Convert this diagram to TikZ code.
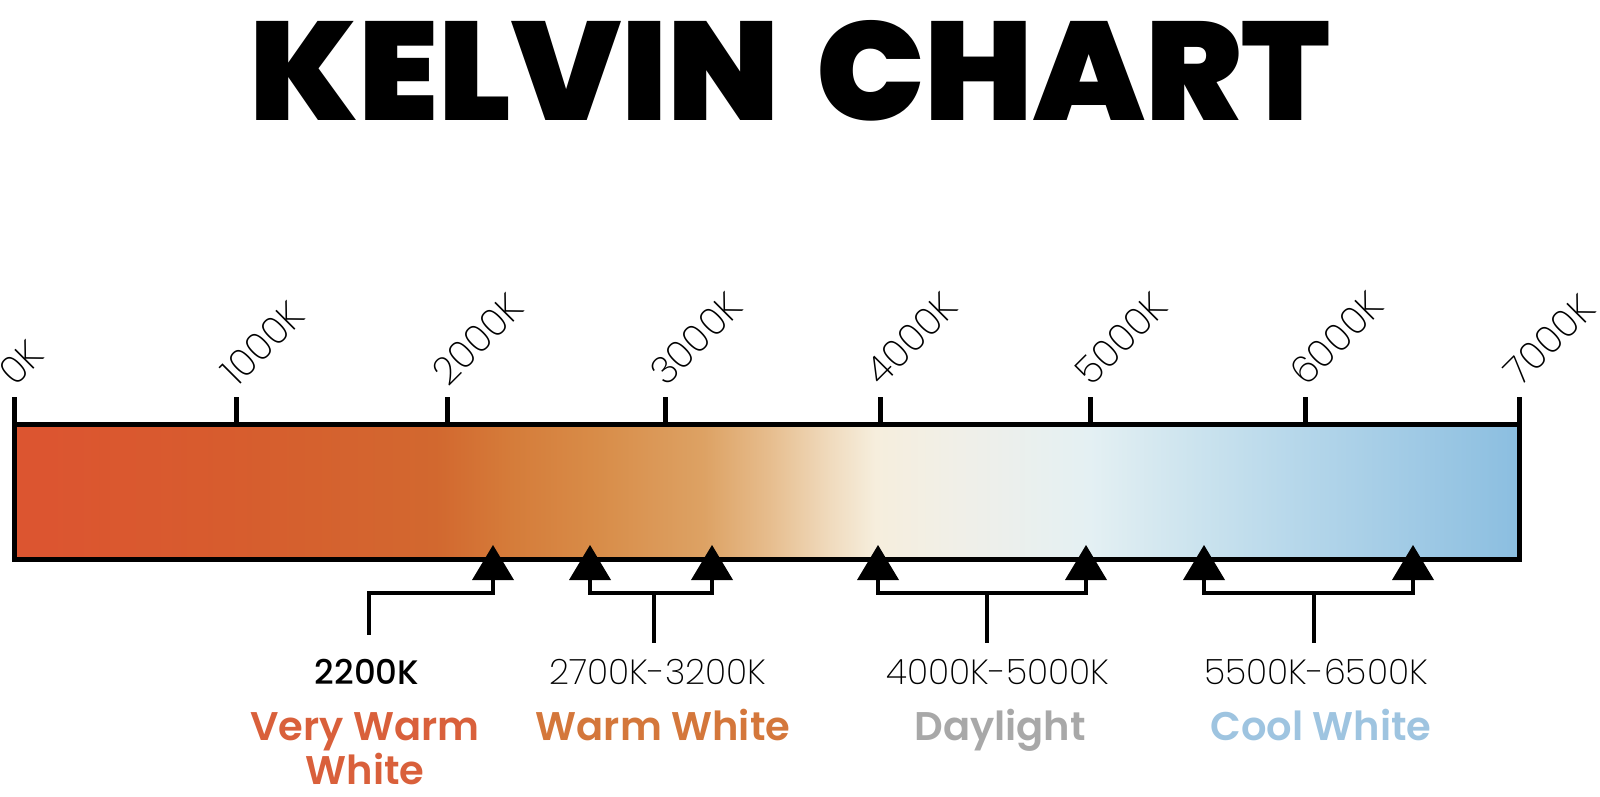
\documentclass[tikz,border=0pt]{standalone}
\usepackage{fontspec}
\setmainfont{Poppins}
\newfontfamily\lightfont{Poppins ExtraLight}
\newfontfamily\semifont{Poppins SemiBold}
\newfontfamily\medfont{Poppins Medium}
\newfontfamily\blackfont{Poppins Black}
\definecolor{k0}{HTML}{DC5530}
\definecolor{k1}{HTML}{D75C2E}
\definecolor{k2}{HTML}{D2682F}
\definecolor{k3}{HTML}{D57C3A}
\definecolor{k4}{HTML}{D88C48}
\definecolor{k5}{HTML}{DDA264}
\definecolor{k6}{HTML}{E6BC8C}
\definecolor{k7}{HTML}{F0DBBE}
\definecolor{k8}{HTML}{F6EEDD}
\definecolor{k9}{HTML}{F0EFE8}
\definecolor{k10}{HTML}{E4F0F3}
\definecolor{k11}{HTML}{CBE3EE}
\definecolor{k12}{HTML}{B4D6EA}
\definecolor{k13}{HTML}{A0CAE5}
\definecolor{k14}{HTML}{8BBEE0}
\definecolor{vwarm}{HTML}{D9603B}
\definecolor{warm}{HTML}{D4773B}
\definecolor{day}{HTML}{A8A8A8}
\definecolor{cool}{HTML}{9EC4E0}
\pgfdeclarehorizontalshading{kelvin}{100bp}{
color(0bp)=(k0); color(25bp)=(k0);
color(26bp)=(k0);
color(32bp)=(k1);
color(39bp)=(k2);
color(41.5bp)=(k3);
color(44.3bp)=(k4);
color(47.9bp)=(k5);
color(50bp)=(k6);
color(52.1bp)=(k7);
color(53.6bp)=(k8);
color(56.4bp)=(k9);
color(60.7bp)=(k10);
color(64.3bp)=(k11);
color(67.9bp)=(k12);
color(71.4bp)=(k13);
color(75bp)=(k14); color(100bp)=(k14)}
\tikzset{
  barline/.style={line width=5pt, draw=black},
  tickline/.style={line width=5pt, draw=black},
  conn/.style={line width=4pt, draw=black},
  tri/.style={fill=black},
  ticklabel/.style={anchor=base west, rotate=45, inner sep=0pt, font=\lightfont\fontsize{38}{38}\selectfont},
  rangelabel/.style={anchor=base, inner sep=0pt, font=\lightfont\fontsize{35}{35}\selectfont},
  namelabel/.style={anchor=base, inner sep=0pt, align=center, font=\semifont\fontsize{40}{44}\selectfont},
}
\begin{document}
\begin{tikzpicture}[x=1pt,y=-1pt]
\useasboundingbox (0,0) rectangle (1600,796);
% title
\node[anchor=base, inner sep=0pt, xscale=1.03, font=\blackfont\fontsize{140}{140}\selectfont] (title) at (790,120) {KELVIN\hspace{0.08em} CHART};
% bar
\node[draw=none, minimum width=1505pt, minimum height=135pt, inner sep=0pt, shading=kelvin, anchor=north west] (bar) at (14.5,424.5) {};
\draw[barline] (bar.north west) rectangle (bar.south east);
% ticks
\foreach \n/\x/\t in {t0/14.5/0K, t1/236/1000K, t2/447/2000K, t3/665/3000K, t4/880/4000K, t5/1090/5000K, t6/1305/6000K, t7/1519.5/7000K}{
  \coordinate (\n) at (\x,397);
  \draw[tickline] (\n) -- (\x,424.5);
  \node[ticklabel] (\n lab) at (\x+1,388) {\t};
}
% triangles (apex at bar bottom)
\foreach \n/\x in {a/493, b/590, c/712, d/878, e/1086, f/1204, g/1413}{
  \coordinate (\n) at (\x,580);
  \fill[tri] (\x,545) -- (\x+21,580) -- (\x-21,580) -- cycle;
}
% connectors
\coordinate (a1) at (369,593);
\coordinate (a2) at (369,635);
\draw[conn] (a) -- (493,593) -- (a1) -- (a2);
\coordinate (bc) at (654,593);
\coordinate (bc2) at (654,643);
\draw[conn] (b) -- (590,593) -- (712,593) -- (c);
\draw[conn] (bc) -- (bc2);
\coordinate (de) at (987,593);
\coordinate (de2) at (987,643);
\draw[conn] (d) -- (878,593) -- (1086,593) -- (e);
\draw[conn] (de) -- (de2);
\coordinate (fg) at (1314,593);
\coordinate (fg2) at (1314,643);
\draw[conn] (f) -- (1204,593) -- (1413,593) -- (g);
\draw[conn] (fg) -- (fg2);
% labels
\node[anchor=base, inner sep=0pt, font=\medfont\fontsize{34}{34}\selectfont] (l1) at (367,684) {2200K};
\node[rangelabel] (l2) at (658,684) {2700K-3200K};
\node[rangelabel] (l3) at (998,684) {4000K-5000K};
\node[rangelabel] (l4) at (1316,684) {5500K-6500K};
\node[namelabel, text=vwarm] (n1) at (365,784) {Very Warm\\White};
\node[namelabel, text=warm] (n2) at (663,740) {Warm White};
\node[namelabel, text=day] (n3) at (1000,740) {Daylight};
\node[namelabel, text=cool] (n4) at (1321,740) {Cool White};
\end{tikzpicture}
\end{document}
